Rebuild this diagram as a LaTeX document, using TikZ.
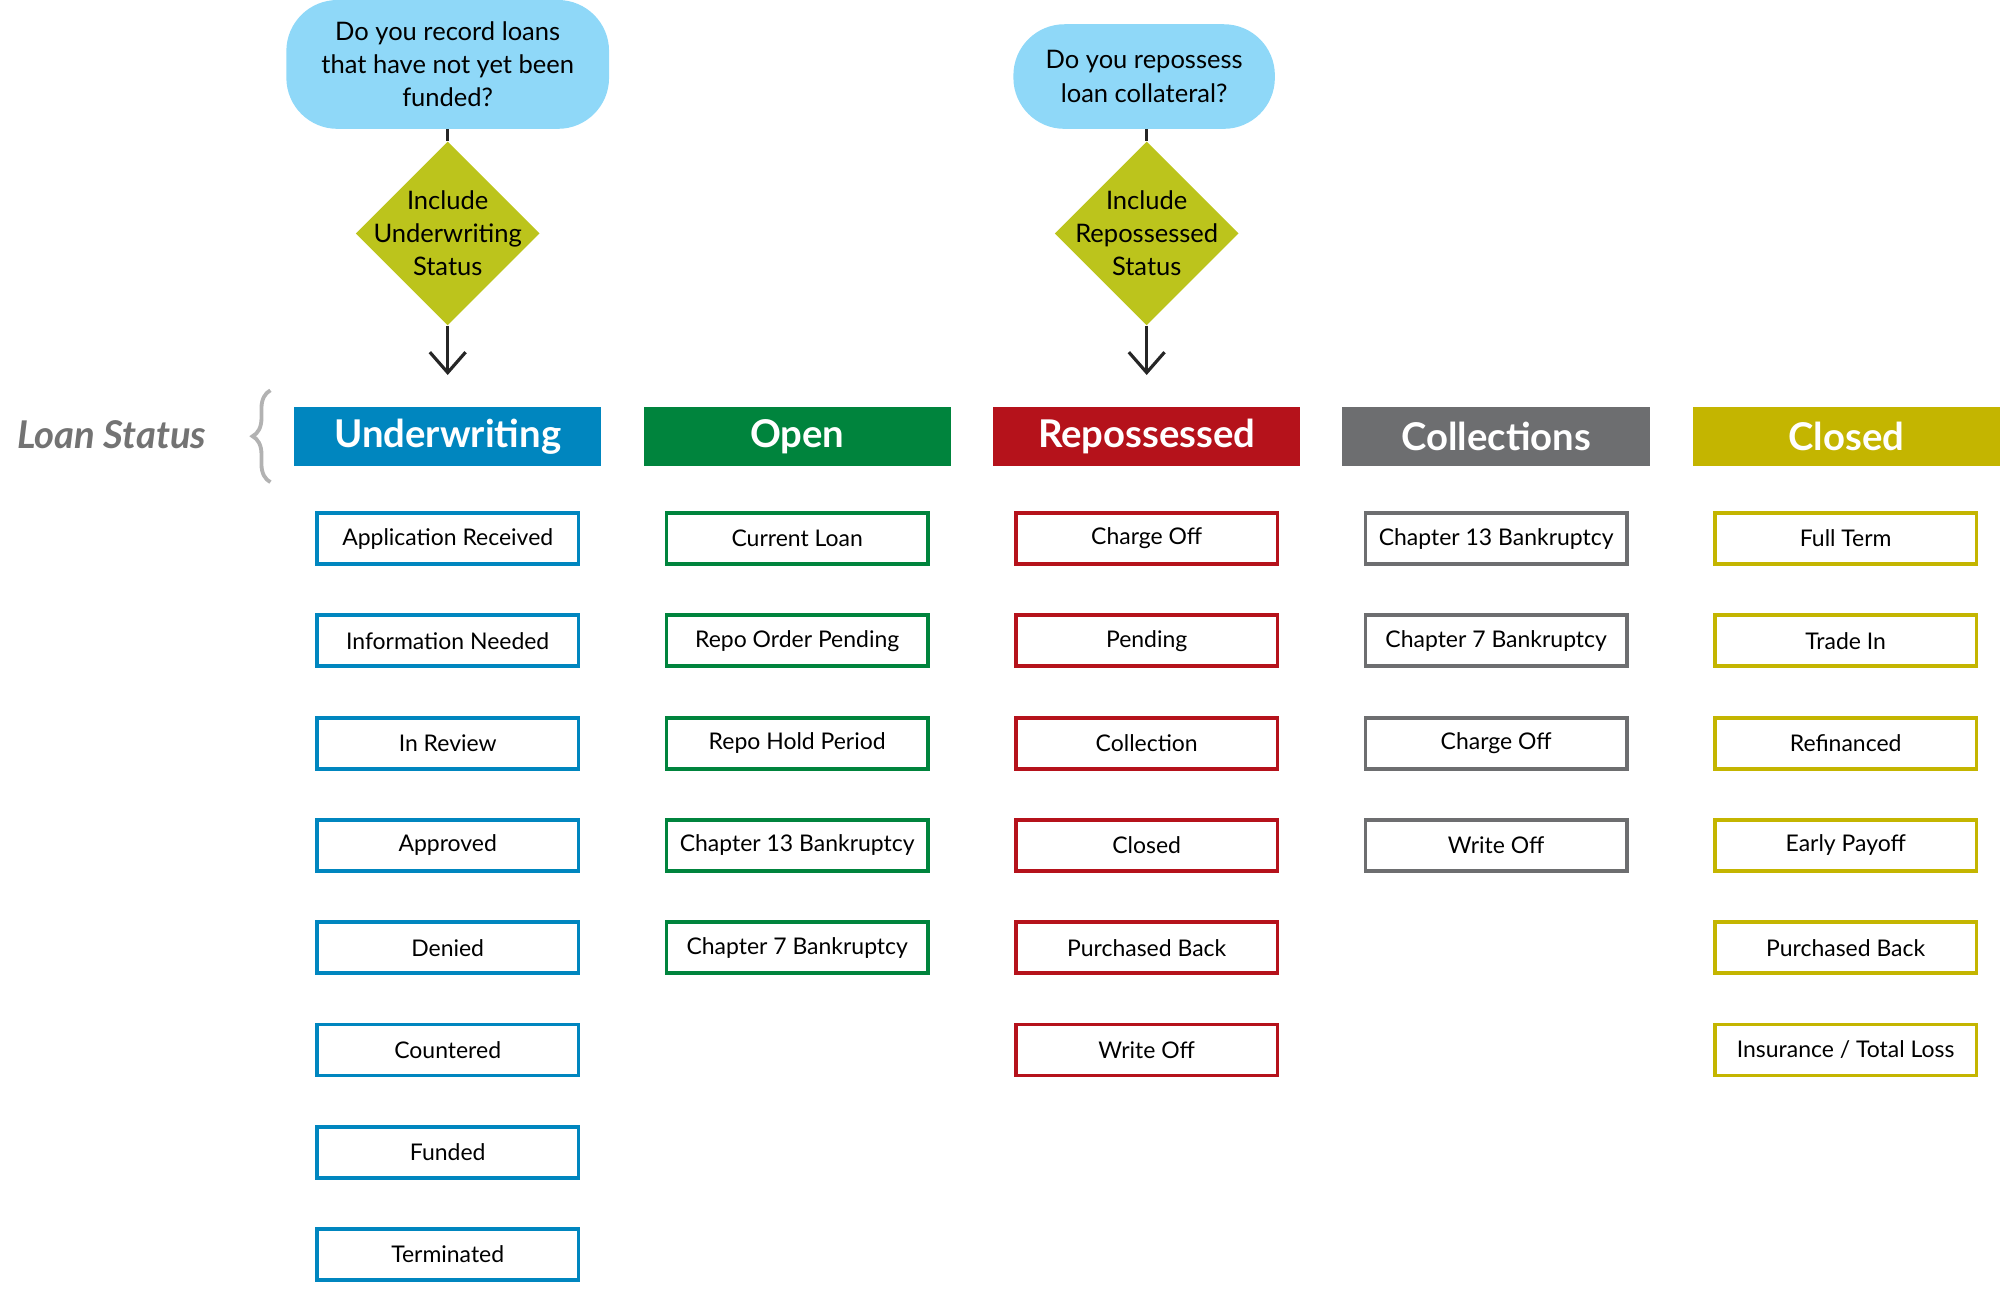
\documentclass[tikz,border=0pt]{standalone}
\usepackage{fontspec}
\setmainfont{Lato}
\usetikzlibrary{shapes.geometric,arrows.meta,decorations.pathreplacing}
\definecolor{cb}{HTML}{0086BF}
\definecolor{cg}{HTML}{00843D}
\definecolor{cr}{HTML}{B5121B}
\definecolor{cy}{HTML}{6D6E70}
\definecolor{co}{HTML}{C4B500}
\definecolor{bub}{HTML}{8FD8F8}
\definecolor{dia}{HTML}{BCC41C}
\tikzset{
 hdr/.style={fill=#1,text=white,minimum width=241pt,minimum height=46pt,inner sep=0pt,font=\fontsize{30}{32}\selectfont\bfseries},
 itm/.style={draw=#1,line width=3pt,minimum width=205pt,minimum height=40pt,inner sep=0pt,font=\fontsize{18}{20}\selectfont},
 bubble/.style={fill=bub,rounded corners=40pt,inner sep=0pt,align=center,font=\fontsize{20}{26}\selectfont},
 dtext/.style={inner sep=0pt,align=center,font=\fontsize{20}{26}\selectfont,minimum width=144pt,minimum height=144pt},
 conn/.style={line width=2.5pt,draw=black!85}
}
\begin{document}
\begin{tikzpicture}[x=1pt,y=-1pt]
\useasboundingbox (0,0) rectangle (1568,1013);
\node[bubble,minimum width=253pt,minimum height=101pt] (q1) at (351,50.5) {Do you record loans\\that have not yet been\\funded?};
\node[bubble,minimum width=205pt,minimum height=82pt] (q2) at (897,60) {Do you repossess\\loan collateral?};
\fill[dia] (351,111) -- (423,183) -- (351,255) -- (279,183) -- cycle;
\fill[dia] (899,111) -- (971,183) -- (899,255) -- (827,183) -- cycle;
\node[dtext] (d1) at (351,183) {Include\\Underwriting\\Status};
\node[dtext] (d2) at (899,183) {Include\\Repossessed\\Status};
\coordinate (a1) at (351,294);
\coordinate (a2) at (899,294);
\draw[conn] (q1.south) -- (d1.north);
\draw[conn] (q2.south -| d2.north) -- (d2.north);
\draw[conn,-{Straight Barb[length=16pt,width=28pt,line width=2.5pt]}] (d1.south) -- (a1);
\draw[conn,-{Straight Barb[length=16pt,width=28pt,line width=2.5pt]}] (d2.south) -- (a2);
\node[text=black!55,font=\fontsize{30}{32}\selectfont\itshape\bfseries,anchor=west] (ls) at (10,341) {Loan Status};
\coordinate (b1) at (212,306); \coordinate (b2) at (212,378);
\draw[black!30,line width=3pt,decorate,decoration={brace,amplitude=14pt}] (b2) -- (b1);
\foreach \x/\c/\t/\n in {351/cb/Underwriting/h1,625/cg/Open/h2,899/cr/Repossessed/h3,1173/cy/Collections/h4,1447.5/co/Closed/h5}
  \node[hdr=\c] (\n) at (\x,342) {\t};
\foreach \t [count=\i] in {Application Received,Information Needed,In Review,Approved,Denied,Countered,Funded,Terminated}
  \node[itm=cb] (u\i) at (351,342+80.2*\i) {\t};
\foreach \t [count=\i] in {Current Loan,Repo Order Pending,Repo Hold Period,Chapter 13 Bankruptcy,Chapter 7 Bankruptcy}
  \node[itm=cg] (o\i) at (625,342+80.2*\i) {\t};
\foreach \t [count=\i] in {Charge Off,Pending,Collection,Closed,Purchased Back,Write Off}
  \node[itm=cr] (r\i) at (899,342+80.2*\i) {\t};
\foreach \t [count=\i] in {Chapter 13 Bankruptcy,Chapter 7 Bankruptcy,Charge Off,Write Off}
  \node[itm=cy] (c\i) at (1173,342+80.2*\i) {\t};
\foreach \t [count=\i] in {Full Term,Trade In,Refinanced,Early Payoff,Purchased Back,Insurance / Total Loss}
  \node[itm=co] (z\i) at (1447,342+80.2*\i) {\t};
\end{tikzpicture}
\end{document}
